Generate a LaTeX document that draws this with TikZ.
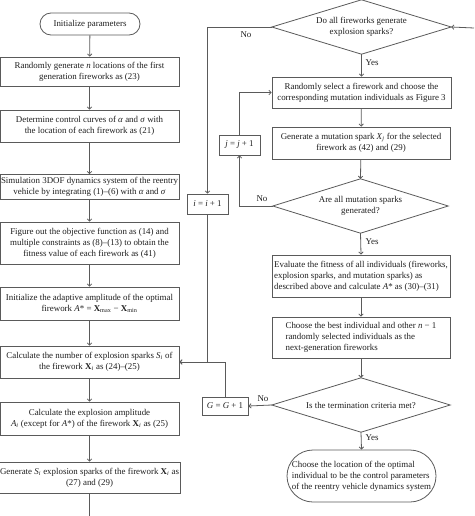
\documentclass[tikz,border=0pt]{standalone}
\usepackage{fontspec}
\setmainfont{Liberation Serif}
\usetikzlibrary{arrows.meta}
\definecolor{ln}{HTML}{5A5A5A}
\definecolor{tx}{HTML}{1E1E1E}
\begin{document}
\begin{tikzpicture}[x=1pt,y=-1pt,
  every node/.style={font=\fontsize{8.9}{11}\selectfont, text=tx},
  box/.style={draw=ln, line width=0.8pt, rectangle, inner sep=1pt, align=center},
  dia/.style={rectangle, inner sep=0pt, align=center},
  term/.style={draw=ln, line width=0.8pt, rectangle, inner sep=1pt},
  lbl/.style={inner sep=1pt},
  conn/.style={draw=ln, line width=0.8pt, -{Straight Barb[length=2.2pt,width=4.5pt]}},
  plain/.style={draw=ln, line width=0.8pt}]
\useasboundingbox (0,0) rectangle (474,516);
% left column
\node[term, rounded corners=11pt, minimum width=100pt, minimum height=22pt] (init) at (90,24) {Initialize parameters};
\node[box, minimum width=179pt, minimum height=29pt] (b2) at (89.5,71.5) {Randomly generate \textit{n} locations of the first\\generation fireworks as (23)};
\node[box, minimum width=179pt, minimum height=32pt] (b3) at (89.5,126) {Determine control curves of \textit{α} and \textit{σ} with\\the location of each firework as (21)};
\node[box, minimum width=179pt, minimum height=25pt] (b4) at (89.5,187) {Simulation 3DOF dynamics system of the reentry\\vehicle by integrating (1)–(6) with \textit{α} and \textit{σ}};
\node[box, minimum width=179pt, minimum height=42pt] (b5) at (89.5,243) {Figure out the objective function as (14) and\\multiple constraints as (8)–(13) to obtain the\\fitness value of each firework as (41)};
\node[box, minimum width=179pt, minimum height=33pt] (b6) at (89.5,303.5) {Initialize the adaptive amplitude of the optimal\\firework \textit{A}* = \textbf{X}\textsubscript{max} − \textbf{X}\textsubscript{min}};
\node[box, minimum width=179pt, minimum height=32pt] (b7) at (89.5,362) {Calculate the number of explosion sparks \textit{S}\textsubscript{\textit{i}} of\\the firework \textbf{X}\textsubscript{\textit{i}} as (24)–(25)};
\node[box, minimum width=179pt, minimum height=33pt] (b8) at (89.5,418.5) {Calculate the explosion amplitude\\\textit{A}\textsubscript{\textit{i}} (except for \textit{A}*) of the firework \textbf{X}\textsubscript{\textit{i}} as (25)};
\node[box, minimum width=179pt, minimum height=31pt] (b9) at (89.5,477.5) {Generate \textit{S}\textsubscript{\textit{i}} explosion sparks of the firework \textbf{X}\textsubscript{\textit{i}} as\\(27) and (29)};
\coordinate (bot) at (89.5,516);
% right column
\node[dia, minimum width=179pt, minimum height=54pt] (d1) at (361.5,27) {Do all fireworks generate\\explosion sparks?};
\node[box, minimum width=179pt, minimum height=31pt] (r1) at (361.5,92.5) {Randomly select a firework and choose the\\corresponding mutation individuals as Figure 3};
\node[box, minimum width=178pt, minimum height=32pt] (r2) at (361,143) {Generate a mutation spark \textit{X}\textsubscript{\textit{j}} for the selected\\firework as (42) and (29)};
\node[dia, minimum width=175pt, minimum height=54pt] (d2) at (360.5,206) {Are all mutation sparks\\generated?};
\node[box, align=left, minimum width=178pt, minimum height=42pt] (r3) at (361,276) {Evaluate the fitness of all individuals (fireworks,\\explosion sparks, and mutation sparks) as\\described above and calculate \textit{A}* as (30)–(31)};
\node[box, align=left, minimum width=178pt, minimum height=41pt] (r4) at (361,337.5) {Choose the best individual and other \textit{n} − 1\hspace{8pt}\\randomly selected individuals as the\\next-generation fireworks};
\node[dia, minimum width=178pt, minimum height=54pt] (d3) at (361,405) {Is the termination criteria met?};
\node[term, align=left, rounded corners=26pt, minimum width=149pt, minimum height=52pt, inner sep=0pt] (fin) at (361.5,476) {Choose the location of the optimal\\individual to be the control parameters\\of the reentry vehicle dynamics system};
\node[box, minimum width=41pt, minimum height=20pt] (ii) at (207.5,204) {\textit{i} = \textit{i} + 1};
\node[box, minimum width=41pt, minimum height=20pt] (jj) at (239.5,145) {\textit{j} = \textit{j} + 1};
\node[box, minimum width=46pt, minimum height=18pt] (gg) at (225,406) {\textit{G} = \textit{G} + 1};
\coordinate (rt) at (474,28);
% diamond outlines
\foreach \d in {d1,d2,d3}
  \draw[plain] (\d.north) -- (\d.east) -- (\d.south) -- (\d.west) -- cycle;
% left connectors
\draw[conn] (init) -- (b2);
\draw[conn] (b2) -- (b3);
\draw[conn] (b3) -- (b4);
\draw[conn] (b4) -- (b5);
\draw[conn] (b5) -- (b6);
\draw[conn] (b6) -- (b7);
\draw[conn] (b7) -- (b8);
\draw[conn] (b8) -- (b9);
\draw[plain] (b9) -- (bot);
% right connectors
\draw[conn] (rt) -- (d1.east);
\draw[conn] (d1.west) -| (ii.north);
\node[lbl] (no1) at (246,35) {No};
\draw[conn] (ii.south) |- (b7.east);
\draw[conn] (gg.north) |- (b7.east);
\draw[conn] (d1.south) -- (r1.north);
\node[lbl] (yes1) at (372,63) {Yes};
\draw[conn] (r1) -- (r2);
\draw[conn] (r2) -- (d2.north);
\draw[conn] (d2.west) -| (jj.south);
\node[lbl] (no2) at (262,199) {No};
\draw[conn] (jj.north) |- (r1.west);
\draw[conn] (d2.south) -- (r3.north);
\node[lbl] (yes2) at (372,242) {Yes};
\draw[conn] (r3) -- (r4);
\draw[conn] (r4) -- (d3.north);
\draw[conn] (d3.west) -- (gg.east);
\node[lbl] (no3) at (263,399) {No};
\draw[conn] (d3.south) -- (fin.north);
\node[lbl] (yes3) at (372,438) {Yes};
\end{tikzpicture}
\end{document}
